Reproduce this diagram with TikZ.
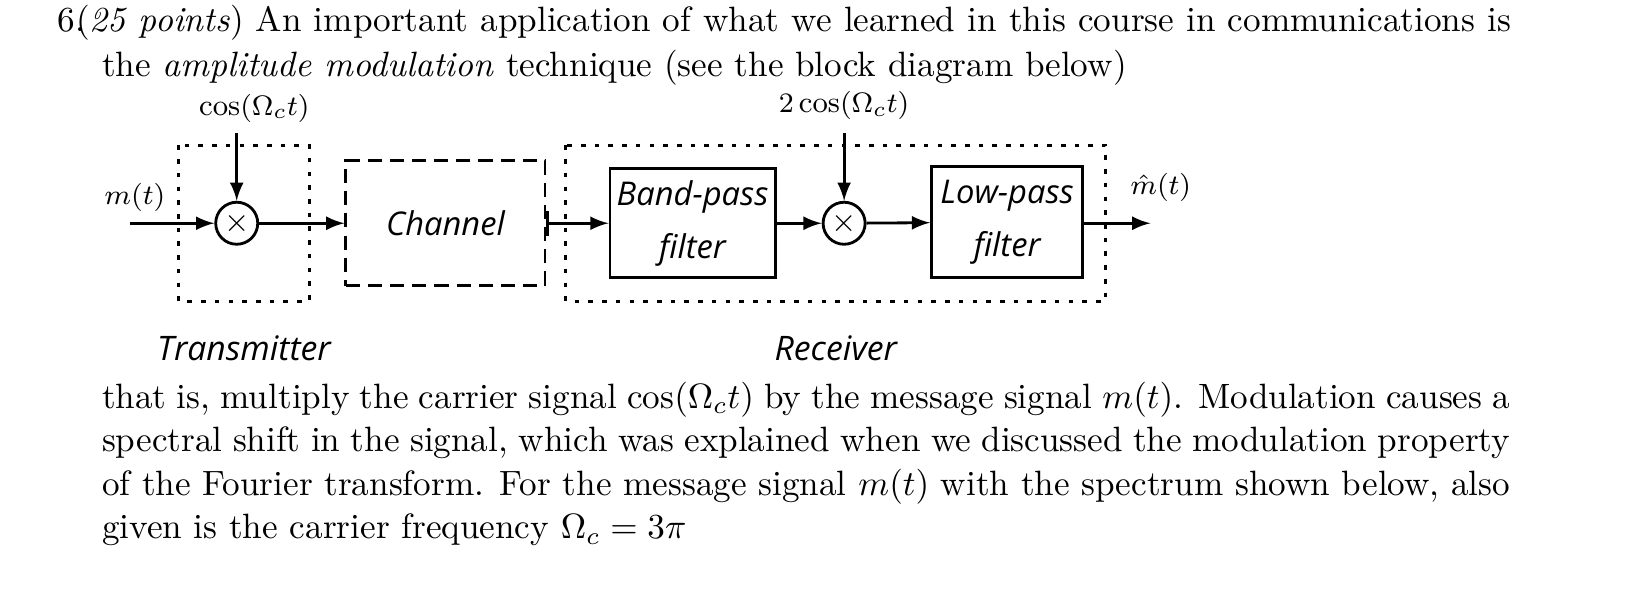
\documentclass[tikz,border=0pt]{standalone}
\usepackage{amsmath}
\usepackage{fontspec}
\newfontfamily\diagfont{Open Sans}
\usetikzlibrary{arrows, positioning, calc}

\begin{document}
\begin{tikzpicture}[x=0.01038cm, y=-0.01038cm, >=latex, thick]
    % Styles
    \tikzstyle{block} = [rectangle, draw, thick, font=\diagfont\itshape\fontsize{9.3}{15}\selectfont, align=center, inner sep=0pt]
    \tikzstyle{mixer} = [draw, thick, circle, minimum size=0.42cm, inner sep=0pt, font=\small]
    \tikzstyle{frame} = [draw, thick, dash pattern=on 1.3pt off 2.6pt]
    \tikzstyle{line} = [font=\fontsize{10}{13}\selectfont, anchor=base west, inner sep=0pt]
    \tikzstyle{caption} = [font=\diagfont\itshape\fontsize{9.6}{12}\selectfont]
    \tikzstyle{label} = [font=\fontsize{8.5}{10}\selectfont]

    \useasboundingbox (0,0) rectangle (1568,588);

    % Text above
    \node[line] (n6) at (54,30) {6.};
    \node[line] (l1) at (72,30) {\makebox[14.34cm][s]{(\textit{25 points}) An important application of what we learned in this course in communications is}};
    \node[line] (l2) at (97,74) {the \textit{amplitude modulation} technique (see the block diagram below)};

    % Frames
    \draw[frame] (172,140) rectangle (298,290);
    \draw[frame] (545,140) rectangle (1065,290);

    % Nodes
    \node[mixer] (mix1) at (228,215) {$\times$};
    \node[mixer] (mix2) at (813,215) {$\times$};
    \node[block, dash pattern=on 4pt off 2.3pt, minimum width=1.99cm, minimum height=1.25cm] (chan) at (429,215) {Channel};
    \node[block, minimum width=1.65cm, minimum height=1.09cm] (bpf) at (667,215) {Band-pass\\filter};
    \node[block, minimum width=1.51cm, minimum height=1.11cm] (lpf) at (970,214) {Low-pass\\filter};
    \coordinate (in) at (125,215);
    \coordinate (out) at (1108,215);
    \coordinate (c1) at (228,128);
    \coordinate (c2) at (813,128);
    \node[label] (m) at (130,190) {$m(t)$};
    \node[label] (mh) at (1118,181) {$\hat{m}(t)$};
    \node[label] (cos1) at (245,104) {$\cos(\Omega_c t)$};
    \node[label] (cos2) at (813,102) {$2\cos(\Omega_c t)$};

    % Connections
    \draw[->] (in) -- (mix1);
    \draw[->] (c1) -- (mix1);
    \draw[->] (mix1) -- (chan);
    \draw[|->] (chan) -- (bpf);
    \draw[->] (bpf) -- (mix2);
    \draw[->] (c2) -- (mix2);
    \draw[->] (mix2) -- (lpf);
    \draw[->] (lpf.east |- out) -- (out);

    % Captions
    \node[caption] (tx) at (235,335) {Transmitter};
    \node[caption] (rx) at (805,335) {Receiver};

    % Text below
    \node[line] (l3) at (97,393) {\makebox[14.07cm][s]{that is, multiply the carrier signal $\cos(\Omega_c t)$ by the message signal $m(t)$. Modulation causes a}};
    \node[line] (l4) at (97,435) {\makebox[14.07cm][s]{spectral shift in the signal, which was explained when we discussed the modulation property}};
    \node[line] (l5) at (97,477) {\makebox[14.07cm][s]{of the Fourier transform. For the message signal $m(t)$ with the spectrum shown below, also}};
    \node[line] (l6) at (97,519) {given is the carrier frequency $\Omega_c = 3\pi$};
\end{tikzpicture}
\end{document}
